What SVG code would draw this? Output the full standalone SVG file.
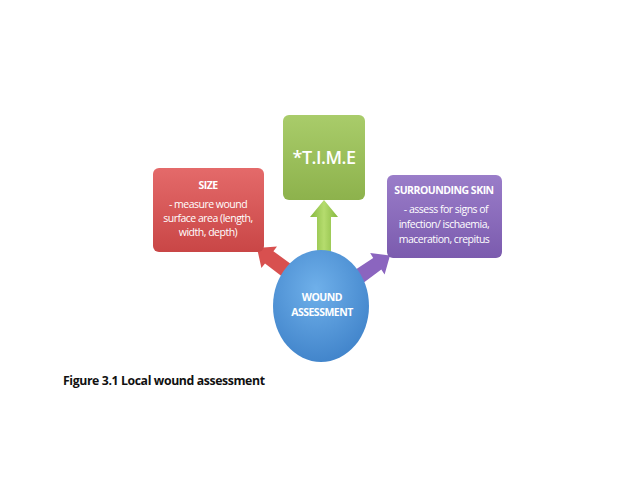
<svg xmlns="http://www.w3.org/2000/svg" width="638" height="478" viewBox="0 0 638 478">
<style>
.t{font-family:"Open Sans","Liberation Sans",sans-serif;fill:#fff;text-anchor:middle;font-size:10.5px;letter-spacing:-0.5px}
.b{font-weight:bold}
.cap{font-family:"Open Sans","Liberation Sans",sans-serif;font-weight:bold;font-size:12.3px;fill:#111;letter-spacing:-0.4px}
</style>
<defs>
<linearGradient id="gr" x1="0" y1="0" x2="0" y2="1"><stop offset="0" stop-color="#e46a6a"/><stop offset="1" stop-color="#c94646"/></linearGradient>
<linearGradient id="gg" x1="0" y1="0" x2="0" y2="1"><stop offset="0" stop-color="#a9cc6a"/><stop offset="1" stop-color="#8db24c"/></linearGradient>
<linearGradient id="gp" x1="0" y1="0" x2="0" y2="1"><stop offset="0" stop-color="#9a7dc9"/><stop offset="1" stop-color="#7b5bae"/></linearGradient>
<radialGradient id="gb" cx="0.45" cy="0.35" r="0.7"><stop offset="0" stop-color="#6fb0ea"/><stop offset="1" stop-color="#3f82c9"/></radialGradient>
<linearGradient id="ag" x1="0" y1="0" x2="1" y2="0"><stop offset="0" stop-color="#86b83f"/><stop offset="0.5" stop-color="#b5dc6e"/><stop offset="1" stop-color="#86b83f"/></linearGradient>
</defs>
<rect width="638" height="478" fill="#fff"/>
<g id="connectors">
<polygon points="317,260 317,217 310,217 324,200 338,217 331,217 331,260" fill="url(#ag)"/>
<polygon points="295,267 273.4,251.2 277,246.4 257,248 261.4,268 265,263.5 286,279.5" fill="#d8504f"/>
<polygon points="362.5,283.5 381.3,269.6 384.6,274.6 390,255.5 370.2,253.1 373.2,258 353.8,270.8" fill="#8b65bf"/>
</g>
<g id="size">
<rect x="153" y="168" width="111" height="84" rx="6" fill="url(#gr)"/>
<text class="t b" x="208" y="189">SIZE</text>
<text class="t" x="208" y="208">- measure wound</text>
<text class="t" x="208" y="222">surface area (length,</text>
<text class="t" x="208" y="236">width, depth)</text>
</g>
<g id="time">
<rect x="283" y="115" width="82" height="85" rx="6" fill="url(#gg)"/>
<text class="t" x="324" y="164" style="font-size:18px;letter-spacing:-0.5px;font-weight:600">*T.I.M.E</text>
</g>
<g id="skin">
<rect x="387" y="175" width="115" height="83" rx="6" fill="url(#gp)"/>
<text class="t b" x="444" y="194">SURROUNDING SKIN</text>
<text class="t" x="446" y="213">- assess for signs of</text>
<text class="t" x="444" y="228">infection/ ischaemia,</text>
<text class="t" x="444" y="243">maceration, crepitus</text>
</g>
<g id="wound">
<ellipse cx="321" cy="306" rx="48" ry="56" fill="url(#gb)"/>
<text class="t b" x="322" y="301">WOUND</text>
<text class="t b" x="322" y="316">ASSESSMENT</text>
</g>
<text class="cap" x="63" y="385">Figure 3.1 Local wound assessment</text>
</svg>
